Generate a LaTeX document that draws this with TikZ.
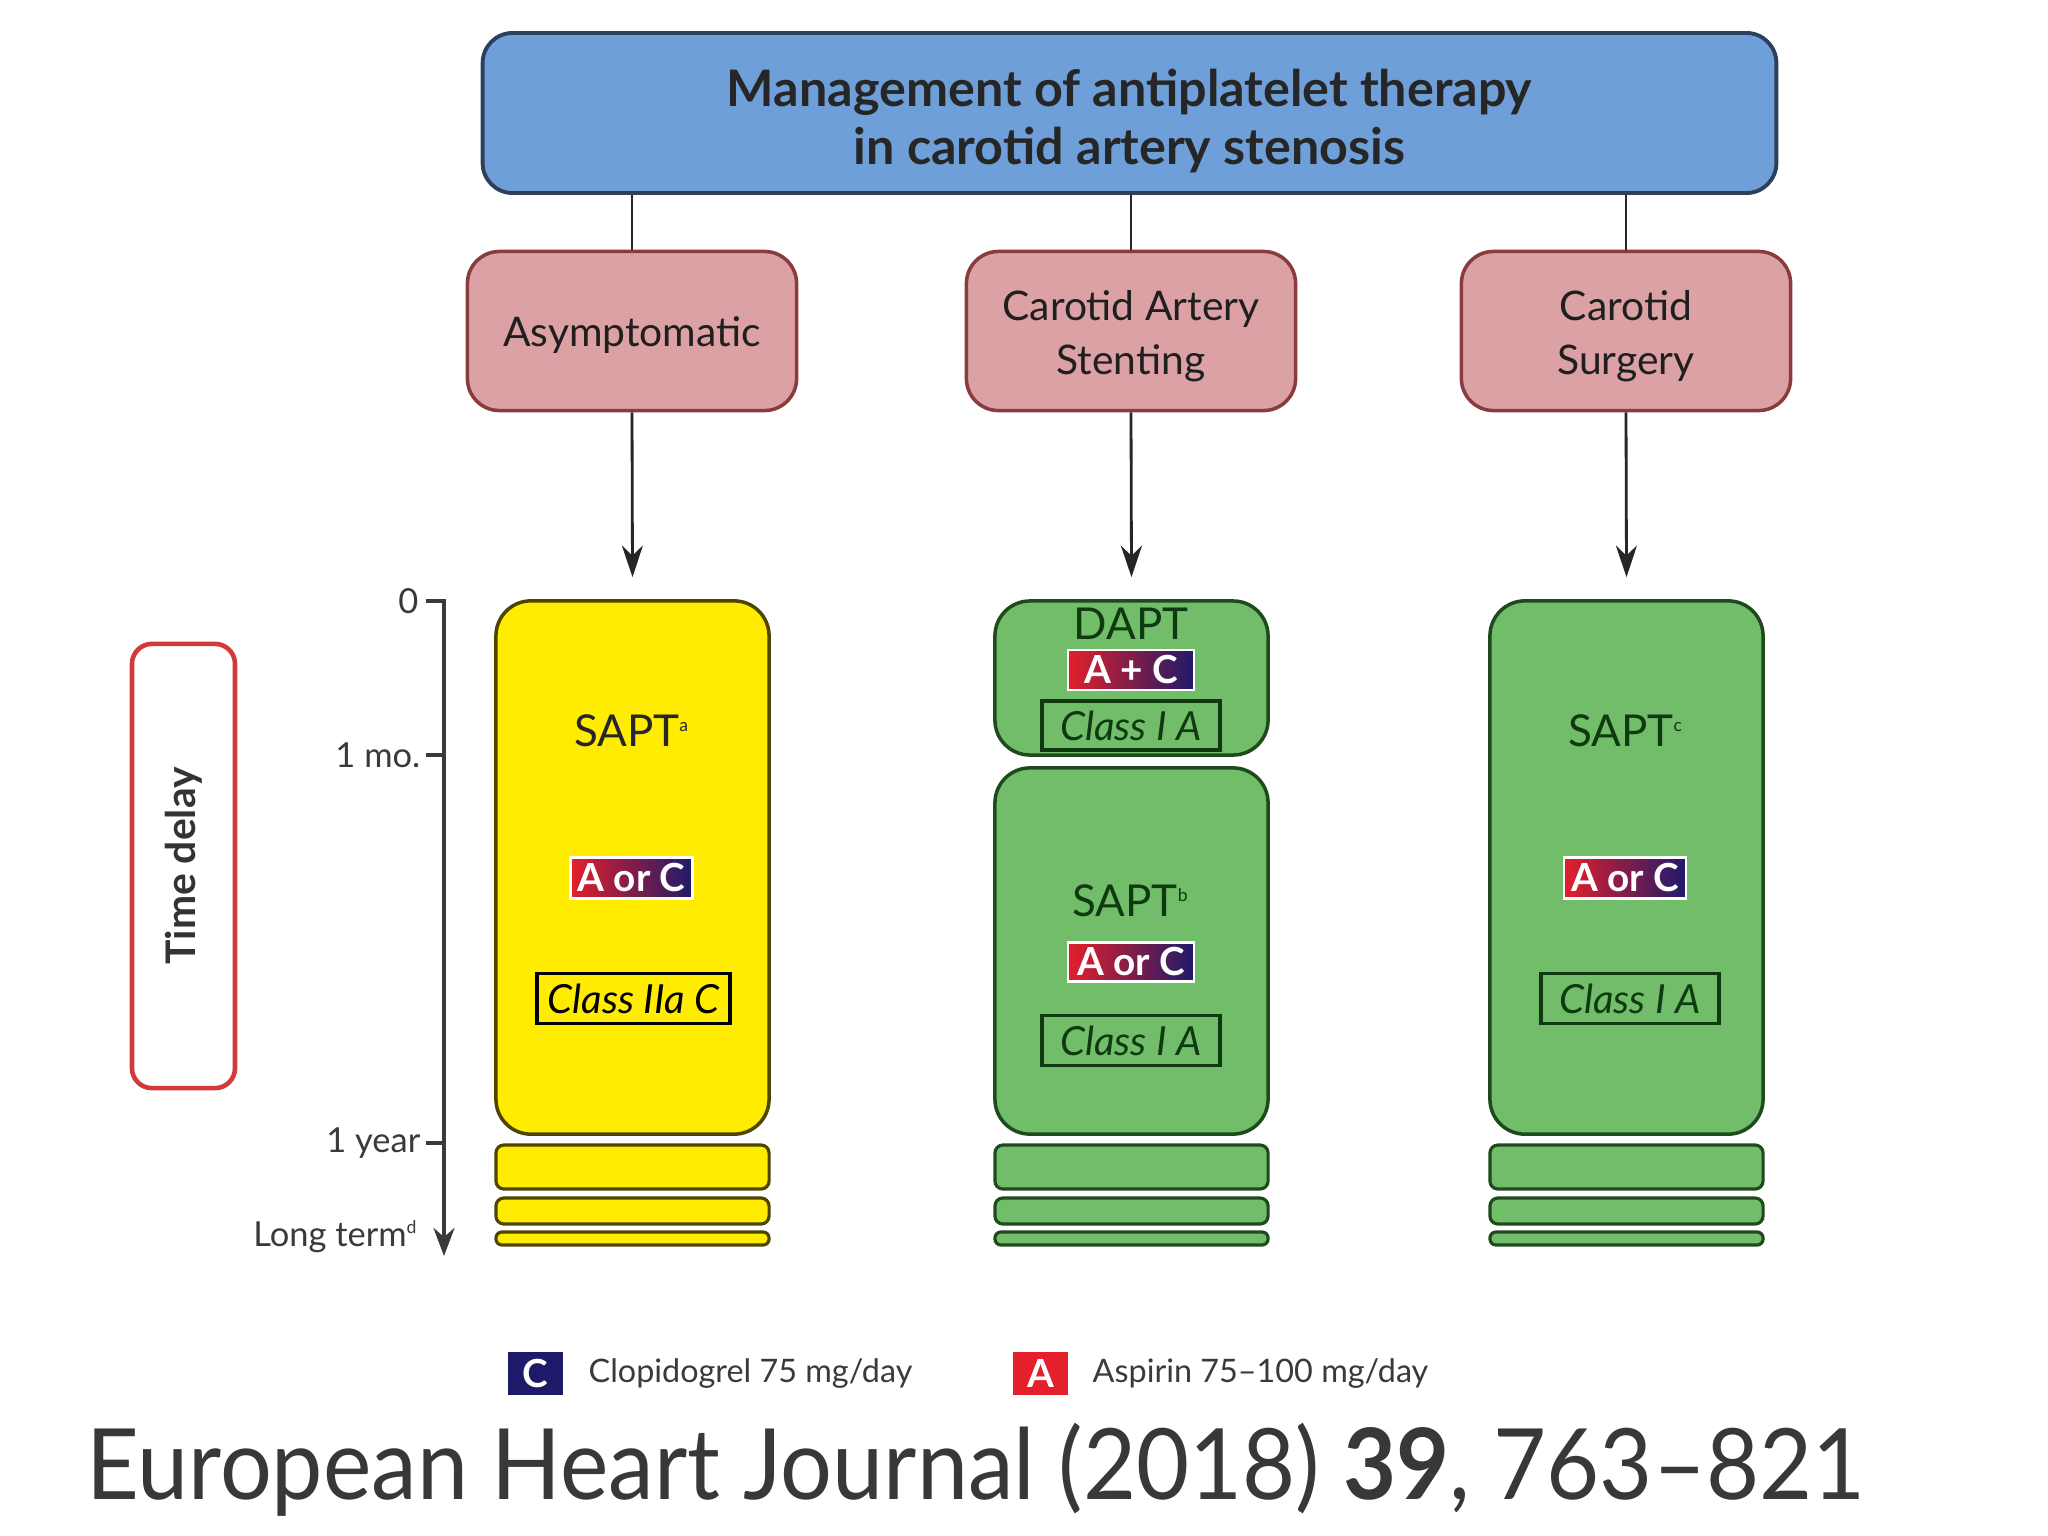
\documentclass[tikz,border=0pt]{standalone}
\usepackage{fontspec}
\setmainfont{Lato}
\usetikzlibrary{arrows.meta}
\definecolor{titleblue}{HTML}{6F9FD8}
\definecolor{titleedge}{HTML}{2E3F5C}
\definecolor{pinkfill}{HTML}{DBA1A5}
\definecolor{pinkedge}{HTML}{8A3B3E}
\definecolor{yel}{HTML}{FFEC00}
\definecolor{yeledge}{HTML}{4D4500}
\definecolor{grn}{HTML}{72BD69}
\definecolor{grnedge}{HTML}{1E4A1E}
\definecolor{grntext}{HTML}{0F3A10}
\definecolor{aspred}{HTML}{E3202B}
\definecolor{clopnavy}{HTML}{1E1A6A}
\definecolor{tdred}{HTML}{D23A3A}
\definecolor{axgray}{HTML}{3A3A3A}
\tikzset{
  titlebox/.style={draw=titleedge, line width=1.1pt, fill=titleblue, rounded corners=0.3cm,
    minimum width=12.93cm, minimum height=1.6cm},
  titletext/.style={align=center, font=\fontsize{14.3}{16.5}\selectfont\bfseries, text=black!85},
  groupbox/.style={draw=pinkedge, line width=1pt, fill=pinkfill, rounded corners=0.32cm,
    minimum width=3.29cm, minimum height=1.59cm},
  grouptext/.style={align=center, font=\fontsize{11.6}{15.5}\selectfont, text=black!88},
  yelcol/.style={draw=yeledge, line width=1pt, fill=yel, rounded corners=0.35cm, minimum width=2.73cm, inner sep=0pt},
  grncol/.style={draw=grnedge, line width=1pt, fill=grn, rounded corners=0.35cm, minimum width=2.73cm, inner sep=0pt},
  yelstripe/.style={draw=yeledge, line width=0.9pt, fill=yel, rounded corners=0.08cm, minimum width=2.73cm, inner sep=0pt},
  grnstripe/.style={draw=grnedge, line width=0.9pt, fill=grn, rounded corners=0.08cm, minimum width=2.73cm, inner sep=0pt},
  badge/.style={left color=aspred, right color=clopnavy, draw=white, line width=0.6pt, text=white,
    font=\fontsize{11}{13}\selectfont\bfseries, inner sep=0pt, minimum height=0.41cm, minimum width=1.22cm},
  classbox/.style={draw, line width=0.9pt, font=\fontsize{11.4}{13}\selectfont\itshape, inner sep=0pt, minimum height=0.5cm},
  sapt/.style={font=\fontsize{12.5}{14}\selectfont},
  conn/.style={line width=0.8pt, draw=black!85},
  arr/.style={conn, -{Stealth[length=9pt,width=6pt]}},
  axlabel/.style={anchor=east, font=\fontsize{9.8}{12}\selectfont, text=axgray, inner sep=0pt},
  legsq/.style={text=white, font=\fontsize{11}{12}\selectfont\bfseries, minimum width=0.55cm, minimum height=0.43cm, inner sep=0pt},
  legtext/.style={anchor=west, font=\fontsize{9.2}{12}\selectfont, text=axgray, inner sep=0pt}
}
\begin{document}
\begin{tikzpicture}[x=0.01cm,y=-0.01cm]
\fill[white] (0,0) rectangle (2048,1536);
\useasboundingbox (0,0) rectangle (2048,1536);

% title
\node[titlebox] (title) at (1129.5,113) {};
\node[titletext] (titlet) at (1129.5,121) {Management of antiplatelet therapy\\in carotid artery stenosis};

% group boxes
\node[groupbox] (asym) at (632,331) {};
\node[groupbox] (cas) at (1131,331) {};
\node[groupbox] (surg) at (1626,331) {};
\node[grouptext] (asymt) at (632,335) {Asymptomatic};
\node[grouptext] (cast) at (1131,336) {Carotid Artery\\Stenting};
\node[grouptext] (surgt) at (1626,336) {Carotid\\Surgery};

\draw[conn] (asym.north) -- (asym.north |- title.south);
\draw[conn] (cas.north) -- (cas.north |- title.south);
\draw[conn] (surg.north) -- (surg.north |- title.south);

% columns
\node[yelcol, minimum height=5.33cm] (col1) at (632.5,867.5) {};
\node[grncol, minimum height=1.54cm] (col2a) at (1131.5,678) {};
\node[grncol, minimum height=3.66cm] (col2b) at (1131.5,951) {};
\node[grncol, minimum height=5.33cm] (col3) at (1626.5,867.5) {};

\draw[arr] (asym.south) -- ([yshift=0.22cm]col1.north);
\draw[arr] (cas.south) -- ([yshift=0.22cm]col2a.north);
\draw[arr] (surg.south) -- ([yshift=0.22cm]col3.north);

% stripes
\foreach \c/\sty in {632.5/yelstripe,1131.5/grnstripe,1626.5/grnstripe}{
  \node[\sty, minimum height=0.44cm] at (\c,1167) {};
  \node[\sty, minimum height=0.26cm] at (\c,1211) {};
  \node[\sty, minimum height=0.13cm, rounded corners=0.06cm] at (\c,1238.5) {};
}

% column contents
\node[sapt, text=black!85] (s1) at (632,731) {SAPT\textsuperscript{\tiny a}};
\node[badge] (b1) at (631.5,878) {A or C};
\node[classbox, draw=black, minimum width=1.93cm] (c1) at (633.5,998.5) {Class IIa C};

\node[sapt, text=grntext] (d2) at (1131,624) {DAPT};
\node[badge, minimum width=1.26cm, minimum height=0.40cm] (b2a) at (1131,670) {A + C};
\node[classbox, draw=grntext, text=grntext, minimum width=1.78cm, minimum height=0.49cm] (c2a) at (1131,725.5) {Class I A};

\node[sapt, text=grntext] (s2) at (1131,901) {SAPT\textsuperscript{\tiny b}};
\node[badge, minimum width=1.26cm, minimum height=0.39cm] (b2b) at (1131,962) {A or C};
\node[classbox, draw=grntext, text=grntext, minimum width=1.78cm] (c2b) at (1131,1040.5) {Class I A};

\node[sapt, text=grntext] (s3) at (1626,731) {SAPT\textsuperscript{\tiny c}};
\node[badge] (b3) at (1625,878) {A or C};
\node[classbox, draw=grntext, text=grntext, minimum width=1.78cm] (c3) at (1630,998.5) {Class I A};

% time axis
\coordinate (axtop) at (444,601);
\coordinate (axbot) at (444,1256);
\coordinate (t0) at (426,601);
\coordinate (tmo) at (426,755);
\coordinate (tmoend) at (444,755);
\coordinate (tyr) at (426,1143);
\coordinate (tyrend) at (444,1143);
\draw[line width=0.9pt, axgray, -{Stealth[length=8pt,width=6pt]}] (t0) -- (axtop) -- (axbot);
\draw[line width=0.9pt, axgray] (tmo) -- (tmoend);
\draw[line width=0.9pt, axgray] (tyr) -- (tyrend);
\node[axlabel] (l0) at (419,601) {0};
\node[axlabel] (lmo) at (421,755) {1 mo.};
\node[axlabel] (lyr) at (421,1143) {1 year};
\node[axlabel] (llt) at (419,1237) {Long term\textsuperscript{\tiny d}};

% time delay box
\node[draw=tdred, line width=1.3pt, fill=white, rounded corners=0.2cm, minimum width=1.03cm, minimum height=4.44cm] (td) at (183.5,866) {};
\node[rotate=90, font=\fontsize{11.6}{14}\selectfont\bfseries, text=black!80] (tdt) at (td.center) {Time delay};

% legend
\node[legsq, fill=clopnavy] (lc) at (535.5,1373.5) {C};
\node[legtext] (lct) at (588,1374) {Clopidogrel 75 mg/day};
\node[legsq, fill=aspred] (la) at (1040.5,1373.5) {A};
\node[legtext] (lat) at (1092,1374) {Aspirin 75--100 mg/day};

% citation
\node[font=\fontsize{28}{30}\selectfont, text=black!78] (cite) at (976,1470) {\scalebox{0.93}[1]{European Heart Journal (2018) \textbf{39}, 763--821}};
\end{tikzpicture}
\end{document}
